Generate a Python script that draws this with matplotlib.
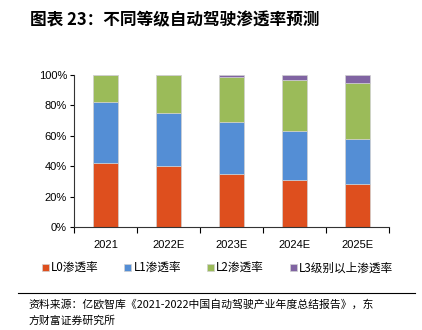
import matplotlib
matplotlib.use("Agg")
import matplotlib.pyplot as plt
import numpy as np
from matplotlib.ticker import FixedLocator

plt.rcParams['font.family'] = ['Noto Sans CJK SC', 'DejaVu Sans']

categories = ["2021", "2022E", "2023E", "2024E", "2025E"]
series_names = ["L0渗透率", "L1渗透率", "L2渗透率", "L3级别以上渗透率"]
l0 = [42, 40, 35, 31, 28]
l1 = [40, 35, 34, 32, 30]
l2 = [18, 25, 30, 34, 37]
l3 = [0, 0, 1, 3, 5]
colors = ["#DE4F1E", "#548ED5", "#9BBB59", "#8064A2"]
yticks = [0, 20, 40, 60, 80, 100]

fig = plt.figure(figsize=(4.22, 3.30), dpi=100)
ax = fig.add_axes([74/422, 1 - 227/330, (389-74)/422, (227-75)/330])

x = np.arange(len(categories))
bottom = np.zeros(len(categories))
handles = []
for vals, c, name in zip([l0, l1, l2, l3], colors, series_names):
    h = ax.bar(x, vals, width=0.4, bottom=bottom, color=c, edgecolor="#D0D0D0", linewidth=0.5, label=name)
    handles.append(h)
    bottom += np.array(vals)

ax.set_xlim(-0.5, len(categories) - 0.5)
ax.set_ylim(0, 100)
ax.set_yticks(yticks)
ax.set_yticklabels([f"{v}%" for v in yticks], fontsize=8, family=['Liberation Sans', 'DejaVu Sans'])
ax.set_xticks(x)
ax.set_xticklabels(categories, fontsize=8, family=['Liberation Sans', 'DejaVu Sans'])
ax.xaxis.set_minor_locator(FixedLocator(np.arange(-0.5, len(categories), 1.0)))
ax.tick_params(axis='x', which='major', length=0, pad=9)
ax.tick_params(axis='x', which='minor', length=4, width=0.8, direction='out')
ax.tick_params(axis='y', length=3, width=0.8, pad=2)
for s in ["top", "right"]:
    ax.spines[s].set_visible(False)
for s in ["left", "bottom"]:
    ax.spines[s].set_linewidth(0.8)
    ax.spines[s].set_color("#333333")

fig.text(30/422, 1 - 20/330, "图表 23：不同等级自动驾驶渗透率预测", fontsize=12, fontweight='bold', va='center', ha='left')

fig.legend(handles=handles, labels=series_names, loc='center', bbox_to_anchor=(0.515, 1 - 268/330),
           ncol=4, frameon=False, fontsize=8.4, handlelength=0.6, handleheight=0.6,
           handletextpad=0.2, columnspacing=2.2)

fig.add_artist(plt.Line2D([18/422, 415/422], [1 - 293/330, 1 - 293/330], color='black', linewidth=0.8))
fig.text(28/422, 1 - 304/330, "资料来源：亿欧智库《2021-2022中国自动驾驶产业年度总结报告》，东", fontsize=7.8, va='center', ha='left')
fig.text(28/422, 1 - 321/330, "方财富证券研究所", fontsize=7.8, va='center', ha='left')

fig.savefig("out.png", dpi=100)
